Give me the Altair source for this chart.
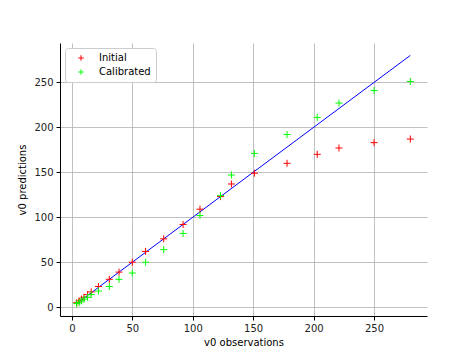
import altair as alt
import pandas as pd

observations = [4, 6, 8, 10, 13, 16, 22, 31, 39, 50, 61, 76, 92, 106, 123, 132, 151, 178, 203, 221, 250, 280]
initial = [5, 7, 9, 11, 14, 17, 23, 31, 39, 50, 62, 76, 92, 109, 123, 137, 149, 160, 170, 177, 183, 187]
calibrated = [4, 5, 7, 9, 11, 14, 18, 23, 31, 38, 50, 64, 82, 102, 124, 147, 171, 192, 211, 227, 241, 251]
series_names = ["Initial", "Calibrated"]
series_colors = ["#ff0000", "#00ff00"]

rows = []
for o, i in zip(observations, initial):
    rows.append({"obs": o, "pred": i, "series": "Initial"})
for o, c in zip(observations, calibrated):
    rows.append({"obs": o, "pred": c, "series": "Calibrated"})
pts = pd.DataFrame(rows)

diag = pd.DataFrame({"obs": [min(observations), max(observations)],
                     "pred": [min(observations), max(observations)]})

xdom = [-9.8, 293.8]
ydom = [-9.8, 293.8]
plus = "M-1,0L1,0M0,-1L0,1"

xs = alt.Scale(domain=xdom, nice=False, zero=False)
ys = alt.Scale(domain=ydom, nice=False, zero=False)
xax = alt.Axis(values=[0, 50, 100, 150, 200, 250], title="v0 observations")
yax = alt.Axis(values=[0, 50, 100, 150, 200, 250], title="v0 predictions")

line = alt.Chart(diag).mark_line(color="#0000ff", strokeWidth=1, clip=True).encode(
    x=alt.X("obs:Q", scale=xs, axis=xax),
    y=alt.Y("pred:Q", scale=ys, axis=yax),
)

points = alt.Chart(pts).mark_point(shape=plus, filled=False, strokeWidth=1, size=49, opacity=1).encode(
    x=alt.X("obs:Q", scale=xs, axis=xax),
    y=alt.Y("pred:Q", scale=ys, axis=yax),
    color=alt.Color("series:N",
                    scale=alt.Scale(domain=series_names, range=series_colors),
                    sort=series_names,
                    legend=alt.Legend(title=None, orient="none", legendX=5, legendY=5,
                                      symbolType=plus, symbolSize=30, symbolStrokeWidth=1,
                                      labelFontSize=10, labelFont="DejaVu Sans", labelColor="#000000",
                                      strokeColor="#cccccc", fillColor="white", padding=5,
                                      cornerRadius=3, rowPadding=4, labelOffset=13,
                                      symbolOffset=6)),
)

chart = (line + points).properties(
    width=367, height=273,
    autosize=alt.AutoSizeParams(type="none"),
    padding={"left": 60, "top": 43, "right": 47, "bottom": 39},
).configure_view(stroke=None).configure_axis(
    domainColor="#000000", tickColor="#000000", labelColor="#222222",
    labelFont="DejaVu Sans", labelFontSize=10, titleFont="DejaVu Sans",
    titleFontSize=10, titleFontWeight="normal", titleColor="#000000",
    gridColor="#b0b0b0", gridWidth=0.8, tickSize=4, labelPadding=3,
).configure_axisX(titlePadding=4).configure_axisY(titlePadding=6)

chart.save("out.html", embed_options={"renderer": "svg", "actions": False})
